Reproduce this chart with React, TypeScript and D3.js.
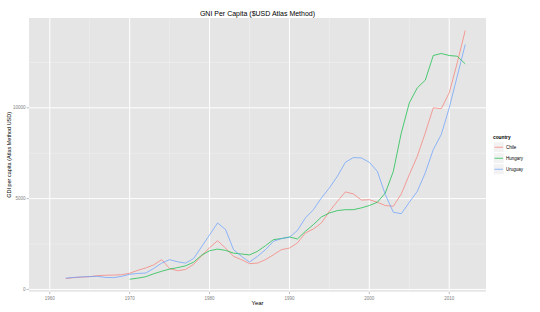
import React, { useEffect, useRef } from 'react';
import * as d3 from 'd3';

const years = [1962, 1963, 1964, 1965, 1966, 1967, 1968, 1969, 1970, 1971, 1972, 1973, 1974, 1975, 1976, 1977,
  1978, 1979, 1980, 1981, 1982, 1983, 1984, 1985, 1986, 1987, 1988, 1989, 1990, 1991, 1992, 1993, 1994, 1995,
  1996, 1997, 1998, 1999, 2000, 2001, 2002, 2003, 2004, 2005, 2006, 2007, 2008, 2009, 2010, 2011, 2012];

const chile = [600, 650, 680, 700, 760, 780, 790, 810, 890, 1050, 1180, 1350, 1640, 1150, 1030, 1100,
  1380, 1850, 2300, 2680, 2280, 1820, 1640, 1420, 1450, 1640, 1910, 2190, 2280, 2560, 3110, 3330, 3660, 4300,
  4850, 5370, 5260, 4920, 4940, 4800, 4620, 4580, 5260, 6320, 7330, 8620, 10000, 9950, 10830, 12480, 14260];

const hungary = [null, null, null, null, null, null, null, null, 560, 620, 700, 860, 1000, 1120, 1200, 1300,
  1500, 1880, 2130, 2220, 2150, 2000, 1950, 1900, 2100, 2410, 2740, 2800, 2890, 2780, 3200, 3570, 3990, 4210,
  4340, 4390, 4390, 4490, 4620, 4800, 5310, 6500, 8620, 10270, 11100, 11520, 12880, 12990, 12880, 12840, 12420];

const uruguay = [620, 660, 690, 710, 720, 660, 650, 720, 830, 880, 900, 1150, 1450, 1640, 1520, 1450,
  1700, 2350, 3000, 3660, 3300, 2190, 1820, 1510, 1820, 2190, 2650, 2800, 2870, 3250, 3940, 4390, 5040, 5590,
  6230, 7000, 7260, 7240, 7000, 6500, 5220, 4250, 4170, 4800, 5400, 6420, 7700, 8530, 10000, 11740, 13490];

const countries = ['Chile', 'Hungary', 'Uruguay'];
const xTicks = [1960, 1970, 1980, 1990, 2000, 2010];
const xMinor = [1965, 1975, 1985, 1995, 2005];
const yTicks = [0, 5000, 10000];
const yMinor = [2500, 7500, 12500];

export default function App() {
  const ref = useRef<SVGSVGElement>(null);

  useEffect(() => {
    const width = 540;
    const height = 312;
    const panel = { left: 29, right: 486, top: 18, bottom: 291.7 };
    const font = 'Liberation Sans, Arial, Helvetica, sans-serif';

    const svg = d3.select(ref.current);
    svg.selectAll('*').remove();
    svg.attr('width', width).attr('height', height);

    const series = [chile, hungary, uruguay];
    const color = d3.scaleOrdinal<string>().domain(countries).range(['#F8766D', '#00BA38', '#619CFF']);

    // ggplot-style 5% expansion
    const allVals = series.flat().filter(v => v != null) as number[];
    const [ymin, ymax] = d3.extent(allVals) as [number, number];
    const yPad = (ymax - ymin) * 0.05;
    const xPad = (2012 - 1960) * 0.05;

    const x = d3.scaleLinear().domain([1960 - xPad, 2012 + xPad]).range([panel.left, panel.right]);
    const y = d3.scaleLinear().domain([ymin - yPad, ymax + yPad]).range([panel.bottom, panel.top]);

    svg.append('rect').attr('width', width).attr('height', height).attr('fill', '#ffffff');

    // panel
    svg.append('rect')
      .attr('x', panel.left).attr('y', panel.top)
      .attr('width', panel.right - panel.left).attr('height', panel.bottom - panel.top)
      .attr('fill', '#E5E5E5');

    const grid = svg.append('g');
    grid.selectAll('.xminor').data(xMinor).join('line')
      .attr('x1', d => x(d)).attr('x2', d => x(d))
      .attr('y1', panel.top).attr('y2', panel.bottom)
      .attr('stroke', '#F2F2F2').attr('stroke-width', 0.5);
    grid.selectAll('.yminor').data(yMinor).join('line')
      .attr('x1', panel.left).attr('x2', panel.right)
      .attr('y1', d => y(d)).attr('y2', d => y(d))
      .attr('stroke', '#F2F2F2').attr('stroke-width', 0.5);
    grid.selectAll('.xmajor').data(xTicks).join('line')
      .attr('x1', d => x(d)).attr('x2', d => x(d))
      .attr('y1', panel.top).attr('y2', panel.bottom)
      .attr('stroke', '#ffffff').attr('stroke-width', 1);
    grid.selectAll('.ymajor').data(yTicks).join('line')
      .attr('x1', panel.left).attr('x2', panel.right)
      .attr('y1', d => y(d)).attr('y2', d => y(d))
      .attr('stroke', '#ffffff').attr('stroke-width', 1);

    // lines
    const line = d3.line<number | null>()
      .defined(d => d != null)
      .x((d, i) => x(years[i]))
      .y(d => y(d as number));

    svg.append('g').selectAll('path').data(series).join('path')
      .attr('d', d => line(d))
      .attr('fill', 'none')
      .attr('stroke', (d, i) => color(countries[i]))
      .attr('stroke-opacity', 0.85)
      .attr('stroke-width', 0.8);

    // axes ticks
    const ax = svg.append('g');
    ax.selectAll('.xt').data(xTicks).join('line')
      .attr('x1', d => x(d)).attr('x2', d => x(d))
      .attr('y1', panel.bottom).attr('y2', panel.bottom + 2.5)
      .attr('stroke', '#7F7F7F').attr('stroke-width', 0.5);
    ax.selectAll('.xl').data(xTicks).join('text')
      .attr('x', d => x(d)).attr('y', panel.bottom + 8)
      .attr('text-anchor', 'middle')
      .attr('font-family', font).attr('font-size', 4.5).attr('fill', '#7F7F7F')
      .text(d => d);
    ax.selectAll('.yt').data(yTicks).join('line')
      .attr('x1', panel.left - 2.5).attr('x2', panel.left)
      .attr('y1', d => y(d)).attr('y2', d => y(d))
      .attr('stroke', '#7F7F7F').attr('stroke-width', 0.5);
    ax.selectAll('.yl').data(yTicks).join('text')
      .attr('x', panel.left - 3.5).attr('y', d => y(d) + 1.6)
      .attr('text-anchor', 'end')
      .attr('font-family', font).attr('font-size', 4.5).attr('fill', '#7F7F7F')
      .text(d => d);

    // titles
    svg.append('text')
      .attr('x', (panel.left + panel.right) / 2).attr('y', 15.5)
      .attr('text-anchor', 'middle')
      .attr('font-family', font).attr('font-size', 7).attr('fill', '#000')
      .text('GNI Per Capita ($USD Atlas Method)');
    svg.append('text')
      .attr('x', (panel.left + panel.right) / 2).attr('y', 305)
      .attr('text-anchor', 'middle')
      .attr('font-family', font).attr('font-size', 6).attr('fill', '#000')
      .text('Year');
    svg.append('text')
      .attr('transform', `translate(11,${(panel.top + panel.bottom) / 2}) rotate(-90)`)
      .attr('text-anchor', 'middle')
      .attr('font-family', font).attr('font-size', 5.5).attr('fill', '#000')
      .text('GDI per capita (Atlas Method USD)');

    // legend
    const legend = svg.append('g').attr('transform', 'translate(493,134)');
    legend.append('text')
      .attr('x', 0).attr('y', 4.5)
      .attr('font-family', font).attr('font-size', 4.8).attr('font-weight', 'bold').attr('fill', '#000')
      .text('country');
    const items = legend.selectAll('.item').data(countries).join('g')
      .attr('transform', (d, i) => `translate(0,${8 + i * 11})`);
    items.append('rect')
      .attr('x', 0.5).attr('y', 0).attr('width', 10.5).attr('height', 10.5)
      .attr('fill', '#F2F2F2').attr('stroke', '#ffffff').attr('stroke-width', 0.5);
    items.append('line')
      .attr('x1', 1.5).attr('x2', 10).attr('y1', 5.25).attr('y2', 5.25)
      .attr('stroke', d => color(d)).attr('stroke-opacity', 0.85).attr('stroke-width', 0.8);
    items.append('text')
      .attr('x', 13).attr('y', 6.8)
      .attr('font-family', font).attr('font-size', 4.5).attr('fill', '#000')
      .text(d => d);
  }, []);

  return (
    <div style={{ position: 'absolute', left: 0, top: 0 }}>
      <svg ref={ref} style={{ display: 'block' }} />
    </div>
  );
}
